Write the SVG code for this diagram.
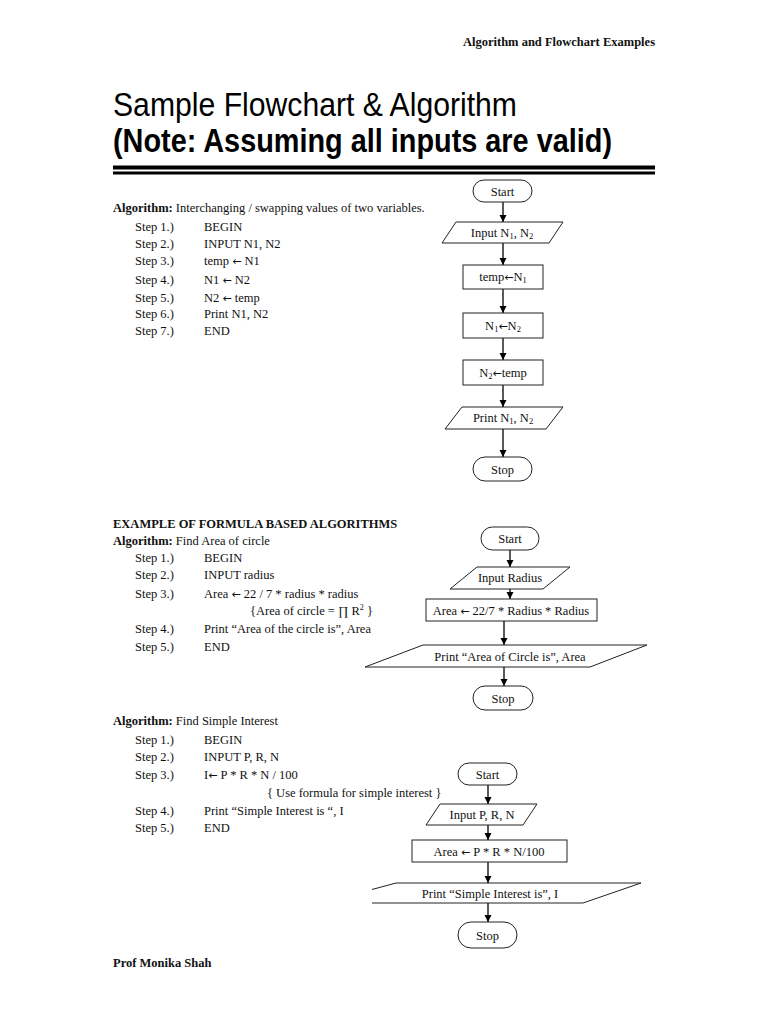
<svg xmlns="http://www.w3.org/2000/svg" width="768" height="1024" viewBox="0 0 768 1024">
<defs>
<marker id="ah" viewBox="0 0 10 10" refX="10" refY="5" markerWidth="7" markerHeight="8" markerUnits="userSpaceOnUse" orient="auto">
<path d="M0,0 L10,5 L0,10 z" fill="#000"/>
</marker>
<style>
.t{font-family:"Liberation Serif","Times New Roman",serif;font-size:12.5px;fill:#111}
.b{font-weight:bold}
.f{font-family:"Liberation Serif","Times New Roman",serif;font-size:12.5px;fill:#111;text-anchor:middle}
.a{font-family:"DejaVu Sans",sans-serif;font-size:11px}
.s{fill:#fff;stroke:#222;stroke-width:1}
.c{stroke:#000;stroke-width:1.3;fill:none;marker-end:url(#ah)}
.h{font-family:"Liberation Sans",Arial,sans-serif;font-size:33px;fill:#000}
</style>
</defs>
<rect width="768" height="1024" fill="#fff"/>
<text class="t b" x="655" y="46" text-anchor="end" font-size="12.5">Algorithm and Flowchart Examples</text>
<text class="h" x="113" y="116" textLength="404" lengthAdjust="spacingAndGlyphs">Sample Flowchart &amp; Algorithm</text>
<text class="h" x="113" y="152" font-weight="bold" textLength="499" lengthAdjust="spacingAndGlyphs">(Note: Assuming all inputs are valid)</text>
<rect x="113" y="165.5" width="542" height="4" fill="#000"/>
<rect x="113" y="171.5" width="542" height="3" fill="#000"/>

<g id="algo1">
<text class="t" x="113" y="212"><tspan class="b">Algorithm:</tspan> Interchanging / swapping values of two variables.</text>
<text class="t" x="135" y="231">Step 1.)</text><text class="t" x="204" y="231">BEGIN</text>
<text class="t" x="135" y="248">Step 2.)</text><text class="t" x="204" y="248">INPUT N1, N2</text>
<text class="t" x="135" y="265">Step 3.)</text><text class="t" x="204" y="265">temp <tspan class="a">←</tspan> N1</text>
<text class="t" x="135" y="284">Step 4.)</text><text class="t" x="204" y="284">N1  <tspan class="a">←</tspan> N2</text>
<text class="t" x="135" y="302">Step 5.)</text><text class="t" x="204" y="302">N2  <tspan class="a">←</tspan> temp</text>
<text class="t" x="135" y="318">Step 6.)</text><text class="t" x="204" y="318">Print N1, N2</text>
<text class="t" x="135" y="335">Step 7.)</text><text class="t" x="204" y="335">END</text>
</g>

<g id="algo2">
<text class="t b" x="113" y="528">EXAMPLE OF FORMULA BASED ALGORITHMS</text>
<text class="t" x="113" y="545"><tspan class="b">Algorithm:</tspan> Find Area of circle</text>
<text class="t" x="135" y="562">Step 1.)</text><text class="t" x="204" y="562">BEGIN</text>
<text class="t" x="135" y="579">Step 2.)</text><text class="t" x="204" y="579">INPUT radius</text>
<text class="t" x="135" y="598">Step 3.)</text><text class="t" x="204" y="598">Area <tspan class="a">←</tspan> 22 / 7 * radius * radius</text>
<text class="t" x="250" y="615">{Area of circle = ∏ R<tspan font-size="8" dy="-5">2</tspan><tspan dy="5"> }</tspan></text>
<text class="t" x="135" y="633">Step 4.)</text><text class="t" x="204" y="633">Print “Area of the circle is”, Area</text>
<text class="t" x="135" y="651">Step 5.)</text><text class="t" x="204" y="651">END</text>
</g>

<g id="algo3">
<text class="t" x="113" y="725"><tspan class="b">Algorithm:</tspan> Find Simple Interest</text>
<text class="t" x="135" y="744">Step 1.)</text><text class="t" x="204" y="744">BEGIN</text>
<text class="t" x="135" y="761">Step 2.)</text><text class="t" x="204" y="761">INPUT P, R, N</text>
<text class="t" x="135" y="779">Step 3.)</text><text class="t" x="204" y="779">I<tspan class="a">←</tspan> P * R * N / 100</text>
<text class="t" x="267" y="797">{ Use formula for simple interest }</text>
<text class="t" x="135" y="815">Step 4.)</text><text class="t" x="204" y="815">Print “Simple Interest is “, I</text>
<text class="t" x="135" y="832">Step 5.)</text><text class="t" x="204" y="832">END</text>
</g>

<text class="t b" x="113" y="967">Prof Monika Shah</text>

<g id="connectors">
<line class="c" x1="503" y1="202" x2="503" y2="222"/>
<line class="c" x1="503" y1="243" x2="503" y2="265"/>
<line class="c" x1="503" y1="289" x2="503" y2="313"/>
<line class="c" x1="503" y1="338" x2="503" y2="360"/>
<line class="c" x1="503" y1="385" x2="503" y2="407"/>
<line class="c" x1="503" y1="429" x2="503" y2="457"/>
<line class="c" x1="510" y1="550" x2="510" y2="567"/>
<line class="c" x1="510" y1="589" x2="510" y2="599"/>
<line class="c" x1="504" y1="621" x2="504" y2="645"/>
<line class="c" x1="504" y1="667" x2="504" y2="686"/>
<line class="c" x1="488" y1="785" x2="488" y2="804"/>
<line class="c" x1="488" y1="825" x2="488" y2="840"/>
<line class="c" x1="488" y1="862" x2="488" y2="883"/>
<line class="c" x1="488" y1="903" x2="488" y2="922"/>
</g>

<g id="start1"><rect class="s" x="473" y="180" width="59" height="22" rx="11"/><text class="f" x="502.5" y="195.5">Start</text></g>
<g id="input1"><polygon class="s" points="456,222 563,222 549,243 442,243"/><text class="f" x="502" y="237">Input N<tspan font-size="8.5" dy="2">1</tspan><tspan dy="-2">, N</tspan><tspan font-size="8.5" dy="2">2</tspan></text></g>
<g id="temp1"><rect class="s" x="463" y="265" width="80" height="24"/><text class="f" x="503" y="281">temp<tspan class="a">←</tspan>N<tspan font-size="8.5" dy="2">1</tspan></text></g>
<g id="n1n2"><rect class="s" x="463" y="313" width="80" height="25"/><text class="f" x="503" y="330">N<tspan font-size="8.5" dy="2">1</tspan><tspan class="a" dy="-2">←</tspan><tspan>N</tspan><tspan font-size="8.5" dy="2">2</tspan></text></g>
<g id="n2temp"><rect class="s" x="463" y="360" width="80" height="25"/><text class="f" x="503" y="377">N<tspan font-size="8.5" dy="2">2</tspan><tspan class="a" dy="-2">←</tspan><tspan>temp</tspan></text></g>
<g id="print1"><polygon class="s" points="462,407 563,407 546,429 445,429"/><text class="f" x="503" y="422">Print N<tspan font-size="8.5" dy="2">1</tspan><tspan dy="-2">, N</tspan><tspan font-size="8.5" dy="2">2</tspan></text></g>
<g id="stop1"><rect class="s" x="473" y="457" width="59" height="24" rx="12"/><text class="f" x="502.5" y="473.5">Stop</text></g>

<g id="start2"><rect class="s" x="481" y="527" width="58" height="23" rx="11.5"/><text class="f" x="510" y="543">Start</text></g>
<g id="input2"><polygon class="s" points="477,567 570,567 543,589 450,589"/><text class="f" x="510" y="582">Input Radius</text></g>
<g id="area2"><rect class="s" x="426" y="599" width="171" height="22"/><text class="f" x="511" y="615">Area <tspan class="a">←</tspan> 22/7 * Radius * Radius</text></g>
<g id="print2"><polygon class="s" points="423,645 647,645 590,667 365,667"/><text class="f" x="510" y="661">Print “Area of Circle is”, Area</text></g>
<g id="stop2"><rect class="s" x="473" y="686" width="60" height="24" rx="12"/><text class="f" x="503" y="703">Stop</text></g>

<g id="start3"><rect class="s" x="458" y="763" width="59" height="22" rx="11"/><text class="f" x="487.5" y="779">Start</text></g>
<g id="input3"><polygon class="s" points="440,804 537,804 523,825 426,825"/><text class="f" x="482" y="819">Input P, R, N</text></g>
<g id="area3"><rect class="s" x="412" y="840" width="155" height="22"/><text class="f" x="489" y="856">Area <tspan class="a">←</tspan> P * R * N/100</text></g>
<g id="print3"><path d="M372,889.5 L396,883 L641,883 L583,903 L372,903 Z" fill="#fff" stroke="none"/><path class="s" d="M372,889.5 L396,883 L641,883 L583,903 L372,903" fill="none"/><text class="f" x="490" y="898">Print “Simple Interest is”, I</text></g>
<g id="stop3"><rect class="s" x="458" y="922" width="59" height="26" rx="13"/><text class="f" x="487.5" y="940">Stop</text></g>
</svg>
